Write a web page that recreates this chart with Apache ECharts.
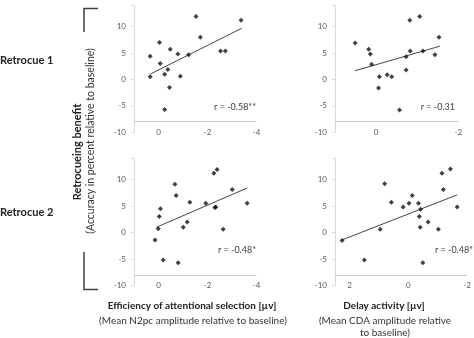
<!DOCTYPE html>
<html><head><meta charset="utf-8">
<script src="https://cdn.jsdelivr.net/npm/echarts@6/dist/echarts.min.js"></script>
<style>html,body{margin:0;padding:0;background:#fff}#c{width:474px;height:338px}</style>
</head><body><div id="c"></div>
<script>
// ---- data ----
const rowLabels = ['Retrocue 1', 'Retrocue 2'];
const yTitle = 'Retrocueing benefit';
const ySub = '(Accuracy in percent relative to baseline)';
const xTitleLeft = 'Efficiency of attentional selection [µv]';
const xSubLeft = '(Mean N2pc amplitude relative to baseline)';
const xTitleRight = 'Delay activity [µv]';
const xSubRight = ['(Mean CDA amplitude relative', 'to baseline)'];
const rLabels = ['r = -0.58**', 'r = -0.31', 'r = -0.48*', 'r = -0.48*'];

const yTicks = [-10, -5, 0, 5, 10];
const yRange = [-10, 14];
const xCross = -8; // horizontal axis crosses the vertical axis here
const xRanges = [[-4, 1], [-2, 1], [-4, 1], [-2, 2.5]];

// Panel 1: Retrocue 1 vs N2pc
const p1 = [[0.34,0.5],[0.34,4.4],[-0.04,7.0],[-0.07,3.0],[-0.25,1.0],[-0.38,1.9],[-0.25,-5.7],[-0.45,-1.5],
  [-0.48,5.7],[-0.79,4.8],[-0.89,0.6],[-1.23,4.7],[-1.53,11.9],[-1.71,8.0],[-2.53,5.4],[-2.73,5.4],[-3.37,11.2]];
const t1 = [[0.34,1.0],[-3.4,9.7]];
// Panel 2: Retrocue 1 vs CDA
const p2 = [[0.51,6.9],[0.18,5.7],[0.14,4.8],[0.11,2.9],[-0.08,0.5],[-0.06,-1.6],[-0.27,0.9],[-0.38,0.5],
  [-0.57,-5.8],[-0.73,4.3],[-0.73,1.8],[-0.82,11.2],[-0.83,5.4],[-1.06,11.9],[-1.14,5.4],[-1.43,4.7],[-1.53,8.0]];
const t2 = [[0.51,1.65],[-1.55,6.3]];
// Panel 3: Retrocue 2 vs N2pc
const p3 = [[0.14,-1.4],[0.01,0.7],[-0.03,3.0],[-0.08,4.5],[-0.19,-5.2],[-0.67,9.1],[-0.72,7.0],[-0.80,-5.7],
  [-1.01,1.0],[-1.17,2.0],[-1.28,5.7],[-1.93,5.5],[-2.26,11.2],[-2.30,4.7],[-2.34,4.8],[-2.39,11.9],[-2.64,0.6],
  [-3.01,8.1],[-3.62,5.5]];
const t3 = [[0.08,1.0],[-3.62,8.4]];
// Panel 4: Retrocue 2 vs CDA
const p4 = [[2.26,-1.5],[1.5,-5.2],[0.96,0.6],[0.81,9.2],[0.58,5.7],[0.18,4.8],[-0.02,5.5],[-0.13,7.0],
  [-0.34,5.5],[-0.37,3.0],[-0.4,1.0],[-0.41,4.4],[-0.49,-5.7],[-0.67,2.0],[-1.02,0.6],[-1.14,11.2],[-1.19,8.1],
  [-1.43,12.0],[-1.66,4.8]];
const t4 = [[2.26,-1.4],[-1.66,7.1]];

const points = [p1, p2, p3, p4];
const trends = [t1, t2, t3, t4];

// ---- layout ----
const grids = [
  {left: 134, top: 5.5, width: 122.5, height: 126.8},
  {left: 335, top: 5.5, width: 123.3, height: 126.8},
  {left: 134, top: 158.3, width: 122.5, height: 127.2},
  {left: 335, top: 158.3, width: 135, height: 127.2}
];
const FONT = 'Lato, "Open Sans", sans-serif';
const tickColor = '#595959';

const chart = echarts.init(document.getElementById('c'), null, {renderer: 'canvas'});
const xAxes = [], yAxes = [], series = [];
grids.forEach((g, i) => {
  xAxes.push({
    gridIndex: i, type: 'value', inverse: true, min: xRanges[i][0], max: xRanges[i][1], interval: 2,
    axisLine: {show: false}, axisTick: {show: false}, splitLine: {show: false},
    axisLabel: {margin: 0, verticalAlign: 'middle', fontSize: 8, color: tickColor, fontFamily: FONT,
      formatter: v => (Math.abs(v % 2) < 1e-9 ? String(v) : '')}
  });
  yAxes.push({
    gridIndex: i, type: 'value', min: yRange[0], max: yRange[1], interval: 5,
    axisLine: {show: true, onZero: false, lineStyle: {color: '#d9d9d9', width: 1}},
    axisTick: {show: true, length: 3, lineStyle: {color: '#d9d9d9'}},
    splitLine: {show: false},
    axisLabel: {margin: 8, fontSize: 8, color: tickColor, fontFamily: FONT,
      formatter: v => (yTicks.indexOf(v) >= 0 ? String(v) : '')}
  });
  series.push({
    type: 'scatter', xAxisIndex: i, yAxisIndex: i, data: points[i],
    symbol: 'diamond', symbolSize: 5, itemStyle: {color: '#111'}, z: 3,
    markLine: {silent: true, symbol: 'none', label: {show: false},
      lineStyle: {color: '#c8c8c8', type: 'solid', width: 1.2}, data: [{yAxis: xCross}]}
  });
  series.push({
    type: 'line', xAxisIndex: i, yAxisIndex: i, data: trends[i], showSymbol: false,
    lineStyle: {color: '#444', width: 1}, z: 2, silent: true
  });
});

const txt = (x, y, text, o) => Object.assign({
  type: 'text', x: x, y: y,
  style: Object.assign({text: text, fill: '#222', font: '10px ' + FONT, textAlign: 'center', textVerticalAlign: 'middle'}, o || {})
});

const graphic = [
  txt(0, 60, rowLabels[0], {font: 'bold 11px ' + FONT, textAlign: 'left'}),
  txt(0, 212, rowLabels[1], {font: 'bold 11px ' + FONT, textAlign: 'left'}),
  Object.assign(txt(77, 152, yTitle, {font: 'bold 11px ' + FONT}), {rotation: Math.PI / 2}),
  Object.assign(txt(91, 141, ySub, {font: '10.5px ' + FONT, fill: '#333'}), {rotation: Math.PI / 2}),
  {type: 'polyline', shape: {points: [[98, 8.5], [84, 8.5], [84, 32]]}, style: {stroke: '#404040', lineWidth: 1.5, fill: null}},
  {type: 'polyline', shape: {points: [[84, 252], [84, 289.5], [98, 289.5]]}, style: {stroke: '#404040', lineWidth: 1.5, fill: null}},
  txt(192, 306, xTitleLeft, {font: 'bold 10px ' + FONT}),
  txt(193, 320.5, xSubLeft, {font: '10px ' + FONT, fill: '#333'}),
  txt(384, 306, xTitleRight, {font: 'bold 10px ' + FONT}),
  txt(385, 320.5, xSubRight[0], {font: '10px ' + FONT, fill: '#333'}),
  txt(385, 333, xSubRight[1], {font: '10px ' + FONT, fill: '#333'}),
  txt(256, 107, rLabels[0], {font: '9px ' + FONT, fill: '#404040', textAlign: 'right'}),
  txt(455, 107, rLabels[1], {font: '9px ' + FONT, fill: '#404040', textAlign: 'right'}),
  txt(256, 250, rLabels[2], {font: '9px ' + FONT, fill: '#404040', textAlign: 'right'}),
  txt(473, 250, rLabels[3], {font: '9px ' + FONT, fill: '#404040', textAlign: 'right'})
];

chart.setOption({
  animation: false,
  grid: grids,
  xAxis: xAxes,
  yAxis: yAxes,
  series: series,
  graphic: graphic
});
</script>
</body></html>
